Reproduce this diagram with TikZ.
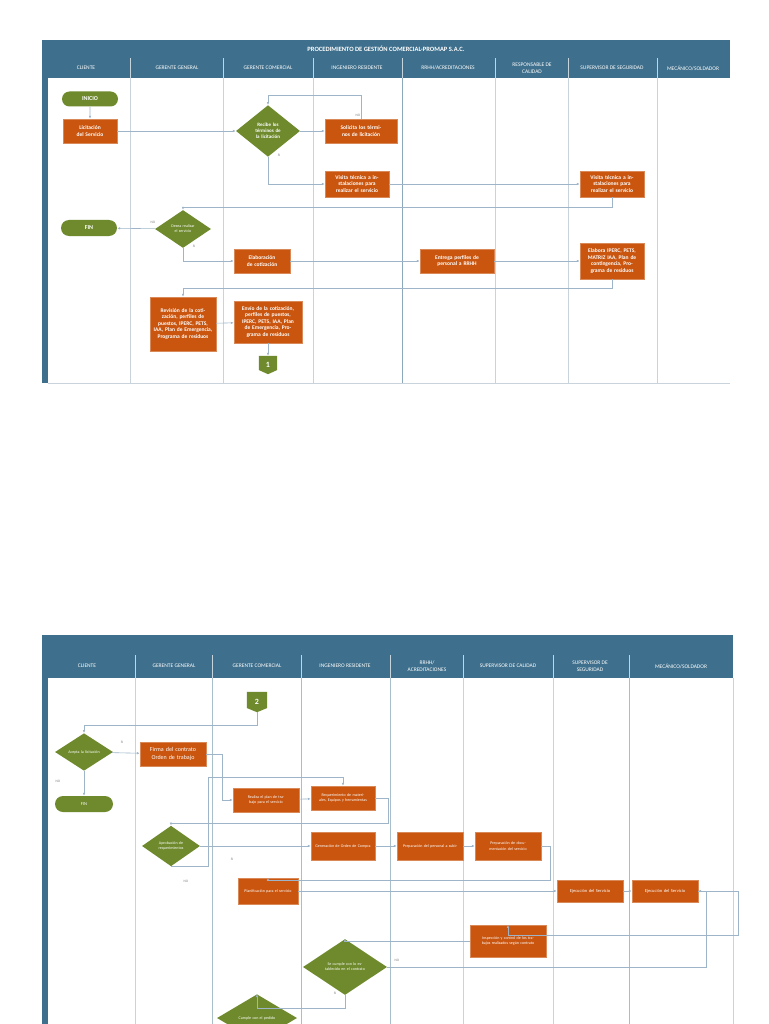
\documentclass[tikz,border=0pt]{standalone}
\usepackage{fontspec}
\setmainfont{Carlito}
\usetikzlibrary{shapes.geometric,arrows.meta}
\definecolor{hdr}{HTML}{3E6F8C}
\definecolor{orng}{HTML}{C9550F}
\definecolor{olv}{HTML}{6E8A2C}
\definecolor{lnc}{HTML}{9DB4C9}
\definecolor{sep}{HTML}{C9D3DC}
\tikzset{
 proc/.style={fill=orng,draw=orng!70!white,text=white,align=center,font=\fontsize{5.5}{6.5}\selectfont\bfseries,inner sep=1pt},
 dec/.style={diamond,fill=olv,text=white,align=center,font=\fontsize{4}{5}\selectfont,inner sep=0pt},
 term/.style={rounded rectangle,fill=olv,text=white,font=\fontsize{6}{7}\selectfont\bfseries,inner sep=0pt},
 conn/.style={draw=lnc,line width=0.6pt,-{Latex[length=3pt,width=2.5pt]}},
 lbl/.style={font=\fontsize{3.5}{4}\selectfont,text=gray},
 hd/.style={text=white,font=\fontsize{5.5}{6.5}\selectfont,align=center},
 offp/.style={minimum size=18pt,inner sep=0pt,text=white,font=\fontsize{8}{9}\selectfont\bfseries}
}
\usetikzlibrary{shapes.misc}
\begin{document}
\begin{tikzpicture}[x=1pt,y=-1pt]
\useasboundingbox (0,0) rectangle (768,1024);
\fill[white] (0,0) rectangle (768,1024);
% ===== TOP PANEL =====
\fill[hdr] (42,40) rectangle (730,78);
\fill[hdr] (42,40) rectangle (48,383);
\draw[sep] (48,383) -- (730,383);
\node[hd,font=\fontsize{6.5}{7}\selectfont\bfseries] (t1) at (386,49) {PROCEDIMIENTO DE GESTIÓN COMERCIAL-PROMAP S.A.C.};
\foreach \x in {130,223,313,402,495,568,657}{\draw[sep] (\x,78) -- (\x,383); \draw[white!70!hdr] (\x,58) -- (\x,78);}
\draw[hdr!60!white] (402,78) -- (402,383);
\node[hd] (h1) at (86,68) {CLIENTE};
\node[hd] (h2) at (177,68) {GERENTE GENERAL};
\node[hd] (h3) at (268,68) {GERENTE COMERCIAL};
\node[hd] (h4) at (357,68) {INGENIERO RESIDENTE};
\node[hd] (h5) at (448,68) {RRHH/ACREDITACIONES};
\node[hd] (h6) at (532,68) {RESPONSABLE DE\\CALIDAD};
\node[hd] (h7) at (612,68) {SUPERVISOR DE SEGURIDAD};
\node[hd] (h8) at (693,68) {MECÁNICO/SOLDADOR};

\node[term,minimum width=56pt,minimum height=15pt] (ini) at (90,99) {INICIO};
\node[proc,minimum width=54pt,minimum height=24pt,text width=50pt] (lic) at (90,131) {Licitación del Servicio};
\node[dec,minimum width=64pt,minimum height=48pt,text width=36pt,font=\fontsize{5}{6}\selectfont\bfseries] (rec) at (268,131) {Recibe los términos de la licitación};
\node[proc,minimum width=72pt,minimum height=24pt,text width=70pt] (sol) at (361,131) {Solicita los términos de licitación};
\node[proc,minimum width=64pt,minimum height=26pt,text width=60pt] (vis1) at (357,184) {Visita técnica a instalaciones para realizar el servicio};
\node[proc,minimum width=64pt,minimum height=26pt,text width=60pt] (vis2) at (612,184) {Visita técnica a instalaciones para realizar el servicio};
\node[term,minimum width=56pt,minimum height=16pt] (fin1) at (89,228) {FIN};
\node[dec,minimum width=56pt,minimum height=30pt,text width=30pt] (des) at (183,229) {Desea realizar el servicio};
\node[proc,minimum width=56pt,minimum height=24pt,text width=52pt] (ela) at (262,261) {Elaboración de cotización};
\node[proc,minimum width=74pt,minimum height=24pt,text width=70pt] (ent) at (457,261) {Entrega perfiles de personal a RRHH};
\node[proc,minimum width=64pt,minimum height=36pt,text width=62pt] (ipe) at (612,261) {Elabora IPERC, PETS, MATRIZ IAA, Plan de contingencia, Programa de residuos};
\node[proc,minimum width=66pt,minimum height=54pt,text width=64pt] (rev) at (183,324) {Revisión de la cotización, perfiles de puestos, IPERC, PETS, IAA, Plan de Emergencia, Programa de residuos};
\node[proc,minimum width=68pt,minimum height=42pt,text width=66pt] (env) at (268,322) {Envío de la cotización, perfiles de puestos, IPERC, PETS, IAA, Plan de Emergencia, Programa de residuos};
\node[offp] (c1) at (268,365) {};
\fill[olv] (c1.north west) -- (c1.north east) -- ([yshift=-5pt]c1.east) -- (c1.south) -- ([yshift=-5pt]c1.west) -- cycle;
\node[offp] at (c1) {1};

\draw[conn] (ini) -- (lic);
\draw[conn] (lic) -- (rec);
\draw[conn] (rec) -- (sol);
\draw[conn] (sol.north) -- (361,95) -| (rec.north);
\node[lbl] (no1) at (358,115) {NO};
\draw[conn] (rec.south) |- (vis1.west);
\node[lbl] (si1) at (279,155) {SI};
\draw[conn] (vis1) -- (vis2);
\draw[conn] (vis2.south) -- (612,207) -| (des.north);
\draw[conn] (des) -- (fin1);
\node[lbl] (no2) at (153,222) {NO};
\draw[conn] (des.south) |- (ela.west);
\node[lbl] (si2) at (194,246) {SI};
\draw[conn] (ela) -- (ent);
\draw[conn] (ent) -- (ipe);
\draw[conn] (ipe.south) -- (612,288) -| (rev.north);
\draw[conn] (rev) -- (env);
\draw[conn] (env) -- (c1);

% ===== BOTTOM PANEL =====
\fill[hdr] (42,635) rectangle (733,678);
\fill[hdr] (42,635) rectangle (48,1024);
\foreach \x in {135,212,301,390,463,553,629}{\draw[sep] (\x,678) -- (\x,1024); \draw[white!70!hdr] (\x,655) -- (\x,678);}
\foreach \x in {212,301,390,629}{\draw[hdr!45!white] (\x,678) -- (\x,1024);}
\draw[sep] (733,678) -- (733,1024);
\node[hd] (b1) at (87,666) {CLIENTE};
\node[hd] (b2) at (174,666) {GERENTE GENERAL};
\node[hd] (b3) at (257,666) {GERENTE COMERCIAL};
\node[hd] (b4) at (345,666) {INGENIERO RESIDENTE};
\node[hd] (b5) at (427,666) {RRHH/\\ACREDITACIONES};
\node[hd] (b6) at (508,666) {SUPERVISOR DE CALIDAD};
\node[hd] (b7) at (590,666) {SUPERVISOR DE\\SEGURIDAD};
\node[hd] (b8) at (681,666) {MECÁNICO/SOLDADOR};

\node[offp,minimum size=20pt] (c2) at (257,702) {};
\fill[olv] (c2.north west) -- (c2.north east) -- ([yshift=-6pt]c2.east) -- (c2.south) -- ([yshift=-6pt]c2.west) -- cycle;
\node[offp] at (c2) {2};
\node[dec,minimum width=58pt,minimum height=26pt,text width=34pt] (ace) at (84,752) {Acepta la licitación};
\node[proc,minimum width=66pt,minimum height=24pt,text width=64pt,font=\fontsize{6}{7.5}\selectfont] (fir) at (173,754) {Firma del contrato Orden de trabajo};
\node[term,minimum width=58pt,minimum height=16pt,font=\fontsize{4.5}{5}\selectfont] (fin2) at (84,804) {FIN};
\node[proc,minimum width=66pt,minimum height=24pt,text width=64pt,font=\fontsize{4}{5.5}\selectfont] (pla) at (266,800) {Realiza el plan de trabajo para el servicio};
\node[proc,minimum width=64pt,minimum height=24pt,text width=62pt,font=\fontsize{4}{5.5}\selectfont] (req) at (343,798) {Requerimiento de materiales, Equipos y herramientas};
\node[dec,minimum width=58pt,minimum height=26pt,text width=32pt] (apr) at (171,846) {Aprobación de requerimientos};
\node[proc,minimum width=64pt,minimum height=28pt,text width=62pt,font=\fontsize{4}{5.5}\selectfont] (gen) at (343,846) {Generación de Orden de Compra};
\node[proc,minimum width=66pt,minimum height=28pt,text width=62pt,font=\fontsize{4}{5.5}\selectfont] (pp) at (430,846) {Preparación del personal a subir};
\node[proc,minimum width=66pt,minimum height=28pt,text width=62pt,font=\fontsize{4}{5.5}\selectfont] (pd) at (508,846) {Preparación de documentación del servicio};
\node[proc,minimum width=60pt,minimum height=26pt,text width=58pt,font=\fontsize{4}{5.5}\selectfont] (plan) at (268,891) {Planificación para el servicio};
\node[proc,minimum width=66pt,minimum height=22pt,text width=64pt,font=\fontsize{4.5}{5.5}\selectfont] (ej1) at (590,891) {Ejecución del Servicio};
\node[proc,minimum width=66pt,minimum height=22pt,text width=64pt,font=\fontsize{4.5}{5.5}\selectfont] (ej2) at (665,891) {Ejecución del Servicio};
\node[proc,minimum width=76pt,minimum height=32pt,text width=72pt,font=\fontsize{4}{5.5}\selectfont] (ins) at (508,941) {Inspección y control de los trabajos realizados según contrato};
\node[dec,minimum width=84pt,minimum height=34pt,text width=48pt] (cum) at (345,967) {Se cumple con lo establecido en el contrato};
\node[dec,minimum width=80pt,minimum height=30pt,text width=44pt] (cum2) at (257,1018) {Cumple con el pedido};

\draw[conn] (c2.south) -- (257,725) -| (ace.north);
\draw[conn] (ace) -- (fir);
\node[lbl] (si3) at (122,742) {SI};
\draw[conn] (ace) -- (fin2);
\node[lbl] (no3) at (58,781) {NO};
\draw[conn] (fir.east) -- (222,754) |- (pla.west);
\draw[conn] (pla) -- (req);
\draw[conn] (req.east) -- (388,798) |- (171,823) -- (apr.north);
\draw[conn] (apr.south) -- (171,866) -| (208,777) -| (req.north);
\node[lbl] (no4) at (186,881) {NO};
\draw[conn] (apr) -- (gen);
\node[lbl] (si4) at (232,859) {SI};
\draw[conn] (gen) -- (pp);
\draw[conn] (pp) -- (pd);
\draw[conn] (pd.east) -- (550,846) |- (268,880) -- (plan.north);
\draw[conn] (plan) -- (ej1);
\draw[conn] (ej1) -- (ej2);
\draw[conn] (ej2.east) -- (738,891) |- (508,935) -- (ins.north);
\draw[conn] (ins.west) -| (cum.north);
\draw[conn] (cum.east) -- (706,967) |- (ej2.east);
\node[lbl] (no5) at (397,960) {NO};
\draw[conn] (cum.south) -- (345,1008) -| (cum2.north);
\node[lbl] (si5) at (335,993) {SI};
\end{tikzpicture}
\end{document}
